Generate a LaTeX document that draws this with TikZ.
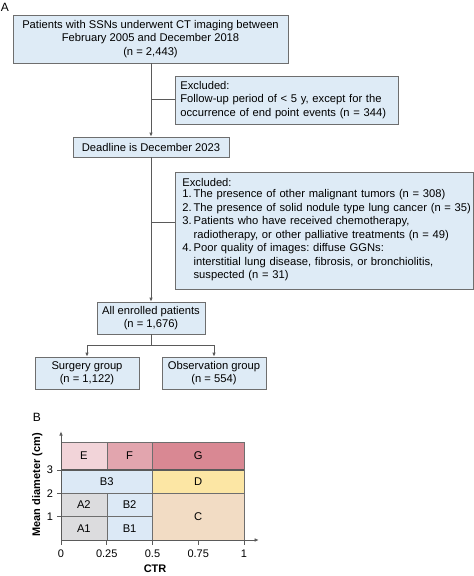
\documentclass[tikz,border=0pt]{standalone}
\usepackage{fontspec}
\setmainfont{Liberation Sans}
\usetikzlibrary{arrows.meta,positioning}
\frenchspacing
\definecolor{boxfill}{RGB}{222, 235, 246}
\definecolor{boxborder}{RGB}{110, 110, 110}
\definecolor{linecolor}{RGB}{90, 90, 90}
\definecolor{zoneA}{RGB}{220, 220, 222}
\definecolor{zoneB}{RGB}{220, 233, 246}
\definecolor{zoneC}{RGB}{242, 220, 196}
\definecolor{zoneD}{RGB}{252, 230, 164}
\definecolor{zoneE}{RGB}{242, 212, 217}
\definecolor{zoneF}{RGB}{226, 165, 174}
\definecolor{zoneG}{RGB}{217, 136, 147}
\tikzset{
boxtext/.style={
  font=\fontsize{11.2}{13.5}\selectfont,
  text=black
},
flowbox/.style={
  draw=boxborder,
  line width=0.8pt,
  fill=boxfill,
  inner sep=0pt,
  align=center,
  boxtext
},
exclbox/.style={
  flowbox,
  align=left,
  anchor=west
},
link/.style={
  draw=linecolor,
  line width=0.8pt
},
arrow/.style={
  link,
  -{Latex[length=4pt,width=3.6pt]}
},
zone/.style={
  draw=boxborder,
  line width=0.5pt
},
zonelabel/.style={
  font=\fontsize{11.2}{12}\selectfont
},
ticklabel/.style={
  font=\fontsize{11}{12}\selectfont
},
axislabel/.style={
  font=\bfseries\fontsize{11}{12}\selectfont
},
panellabel/.style={
  font=\fontsize{12}{12}\selectfont
}
}
\begin{document}
\begin{tikzpicture}[x=1pt, y=-1pt]
  \useasboundingbox (0,0) rectangle (474,576);
  % Main column
  \def\colM{151}

  % Panel A: flow chart
  \node[panellabel] (labelA) at (5,7) {A};
  \node[flowbox, minimum width=275pt, minimum height=48pt] (screened) at (150.5,39)
    {Patients with SSNs underwent CT imaging between\\February 2005 and December 2018\\(n = 2,443)};
  \node[exclbox, text width=213pt, inner xsep=5pt, minimum height=48pt] (excl1) at (175,100)
    {Excluded:\\Follow-up period of < 5 y, except for the\\occurrence of end point events (n = 344)};
  \node[flowbox, minimum width=156pt, minimum height=20pt] (deadline) at (\colM,147)
    {Deadline is December 2023};
  \node[exclbox, text width=284pt, inner xsep=7pt, minimum height=117pt] (excl2) at (175,230.5)
    {Excluded:\\[1pt]
     \begin{tabular}{@{}l@{\,}l@{}}
     1. & The presence of other malignant tumors (n = 308)\\
     2. & The presence of solid nodule type lung cancer (n = 35)\\
     3. & Patients who have received chemotherapy,\\
        & radiotherapy, or other palliative treatments (n = 49)\\
     4. & Poor quality of images: diffuse GGNs:\\
        & interstitial lung disease, fibrosis, or bronchiolitis,\\
        & suspected (n = 31)
     \end{tabular}};
  \node[flowbox, minimum width=108pt, minimum height=32pt] (enrolled) at (\colM,318)
    {All enrolled patients\\(n = 1,676)};
  \node[flowbox, minimum width=104pt, minimum height=32pt] (surgery) at (87,373)
    {Surgery group\\(n = 1,122)};
  \node[flowbox, minimum width=104pt, minimum height=32pt] (observe) at (214,373)
    {Observation group\\(n = 554)};

  % Connectors
  \coordinate (branch1) at (\colM,99);
  \coordinate (branch2) at (\colM,222);
  \coordinate (split) at (\colM,345);
  \draw[arrow] (screened.south -| deadline.north) -- (deadline.north);
  \draw[link] (branch1) -- (branch1 -| excl1.west);
  \draw[arrow] (deadline.south) -- (enrolled.north);
  \draw[link] (branch2) -- (branch2 -| excl2.west);
  \draw[link] (enrolled.south) -- (split);
  \draw[arrow] (split) -| (surgery.north);
  \draw[arrow] (split) -| (observe.north);

  % Panel B: CTR / mean diameter chart
  \node[panellabel] (labelB) at (37,417) {B};
  \begin{scope}[shift={(61pt,-540pt)}, x=183pt, y=23.33pt]
    % Zones
    \filldraw[zone, fill=zoneA] (0,0) rectangle (0.25,1);
    \filldraw[zone, fill=zoneA] (0,1) rectangle (0.25,2);
    \filldraw[zone, fill=zoneB] (0.25,0) rectangle (0.5,1);
    \filldraw[zone, fill=zoneB] (0.25,1) rectangle (0.5,2);
    \filldraw[zone, fill=zoneB] (0,2) rectangle (0.5,3);
    \filldraw[zone, fill=zoneC] (0.5,0) rectangle (1,2);
    \filldraw[zone, fill=zoneD] (0.5,2) rectangle (1,3);
    \filldraw[zone, fill=zoneE] (0,3) rectangle (0.25,4.2);
    \filldraw[zone, fill=zoneF] (0.25,3) rectangle (0.5,4.2);
    \filldraw[zone, fill=zoneG] (0.5,3) rectangle (1,4.2);
    \draw[linecolor, line width=1.2pt] (0,3) -- (1,3);

    % Zone labels
    \node[zonelabel] (zA1) at (0.125,0.5) {A1};
    \node[zonelabel] (zA2) at (0.125,1.5) {A2};
    \node[zonelabel] (zB1) at (0.375,0.5) {B1};
    \node[zonelabel] (zB2) at (0.375,1.5) {B2};
    \node[zonelabel] (zB3) at (0.25,2.5) {B3};
    \node[zonelabel] (zC) at (0.75,1) {C};
    \node[zonelabel] (zD) at (0.75,2.5) {D};
    \node[zonelabel] (zE) at (0.125,3.6) {E};
    \node[zonelabel] (zF) at (0.375,3.6) {F};
    \node[zonelabel] (zG) at (0.75,3.6) {G};

    % Axes
    \coordinate (origin) at (0,0);
    \coordinate (xend) at (1.08,0);
    \coordinate (yend) at (0,4.65);
    \draw[arrow, line width=0.6pt] (origin) -- (xend);
    \draw[arrow, line width=0.6pt] (origin) -- (yend);
    \foreach \x in {0,0.25,0.5,0.75,1} {
      \draw[linecolor, line width=0.6pt] (\x,0) -- (\x,-0.2);
      \node[ticklabel] at (\x,-0.6) {\x};
    }
    \foreach \y in {1,2,3} {
      \draw[linecolor, line width=0.6pt] (0,\y) -- (-0.022,\y);
      \node[ticklabel] at (-0.06,\y) {\y};
    }
    \node[axislabel] (ctr) at (0.514,-1.25) {CTR};
    \node[axislabel, rotate=90] (diam) at (-0.13,2.36) {Mean diameter (cm)};
  \end{scope}
\end{tikzpicture}
\end{document}
